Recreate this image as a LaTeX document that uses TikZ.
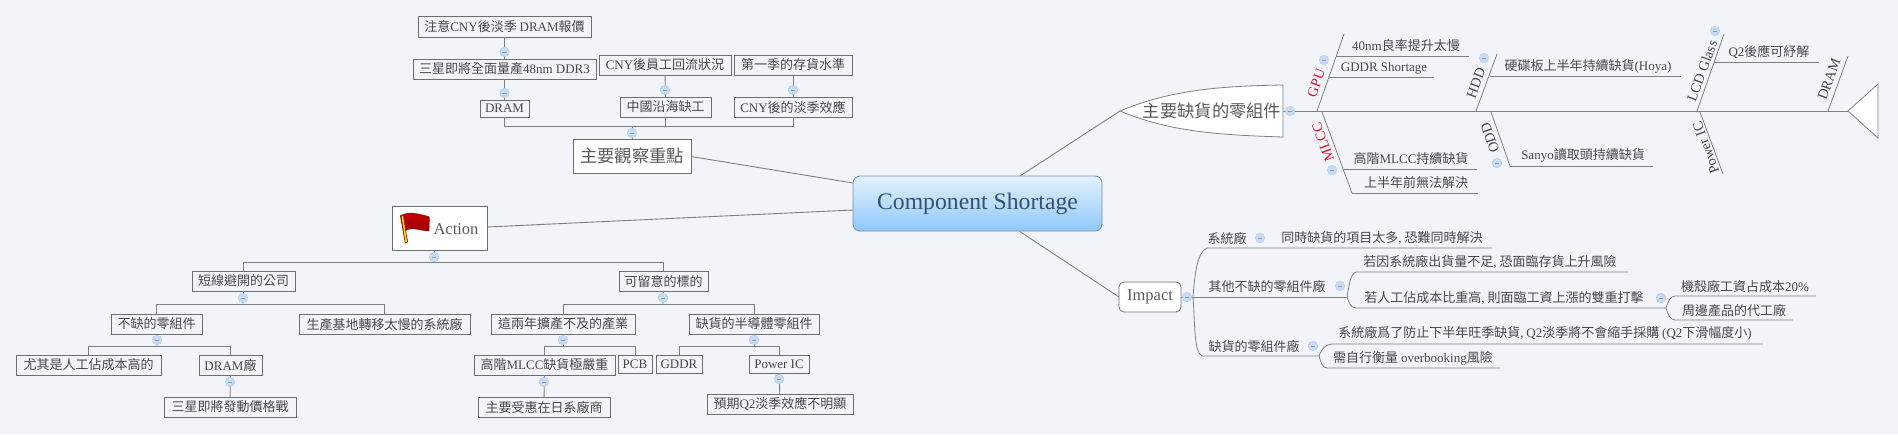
\documentclass[tikz,border=0pt]{standalone}
\usepackage{fontspec}
\setmainfont{Noto Sans CJK TC}
\newfontfamily\en{Liberation Serif}
\definecolor{bgc}{HTML}{F2F4F9}
\definecolor{linec}{HTML}{7F7F7F}
\definecolor{boxc}{HTML}{6E6E6E}
\definecolor{txtc}{HTML}{484848}
\definecolor{bigc}{HTML}{5A5A5A}
\definecolor{mkfill}{HTML}{C9DBF2}
\definecolor{mkdraw}{HTML}{B2CBEA}
\definecolor{mkbar}{HTML}{7F9CC4}
\definecolor{redc}{HTML}{E0102A}
\definecolor{cenT}{HTML}{E3F1FD}
\definecolor{cenB}{HTML}{8FC8FB}
\definecolor{cenTx}{HTML}{3A5068}
\definecolor{cenD}{HTML}{7A8EA5}
\newcommand{\szS}{\fontsize{13}{15}\selectfont}
\newcommand{\szR}{\fontsize{14.3}{16}\selectfont}
\newcommand{\szM}{\fontsize{17.3}{20}\selectfont}
\newcommand{\szL}{\fontsize{23.7}{27}\selectfont}
\tikzset{
  base/.style={inner sep=0pt,outer sep=0pt,text=txtc,align=center},
  box/.style={base,draw=boxc,line width=0.8pt,fill=bgc,font=\szS},
  bigbox/.style={base,draw=boxc,line width=0.8pt,fill=white,font=\szM,text=bigc},
  lab/.style={base,font=\szS},
  link/.style={draw=linec,line width=0.9pt},
  mkn/.style={circle,minimum size=9.5pt,inner sep=0pt,outer sep=0pt,fill=mkfill,draw=mkdraw,line width=0.5pt,
    path picture={\draw[mkbar,line width=0.7pt] ([xshift=-2.4pt]path picture bounding box.center) -- ([xshift=2.4pt]path picture bounding box.center);}},
}
\newcommand{\bx}[7][box]{\node[#1,minimum width={(#5-#3)*1pt},minimum height={(#6-#4)*1pt}] (#2) at ({(#3+#5)/2},{(#4+#6)/2}) {#7};}
\newcommand{\mk}[3]{\node[mkn] (#1) at (#2,#3) {};}
\begin{document}
\begin{tikzpicture}[x=1pt,y=-1pt]
\useasboundingbox (0,0) rectangle (1898,434);
\fill[bgc] (0,0) rectangle (1898,434);

% ---- named junctions
\coordinate (cA) at (853,183);
\coordinate (cB) at (853,210);
\coordinate (cC) at (1020,176);
\coordinate (cD) at (1019,231);
\coordinate (obsEnd) at (691,156.5);
\coordinate (actEnd) at (487,227);
\coordinate (zyTip) at (1120,111);
\coordinate (zyRight) at (1283,111);
\coordinate (impL) at (1119,297);
\coordinate (impR) at (1181,297);
\coordinate (busObs) at (632,126);
\coordinate (busAct) at (434,262);
\coordinate (busS) at (243,304);
\coordinate (busN) at (157,346);
\coordinate (busK) at (663,304);
\coordinate (busY) at (563,346);
\coordinate (busQ) at (754,346);

% ---- central links
\draw[link] (obsEnd) -- (cA);
\draw[link] (actEnd) -- (cB);
\draw[link] (cC) -- (zyTip);
\draw[link] (cD) -- (impL);

% ---- top tree
\bx{n1}{418}{16}{591}{37}{注意{\en CNY}後淡季 {\en DRAM}報價}
\bx{n2}{413}{59}{596}{79}{三星即將全面量產{\en 48nm DDR3}}
\bx{n3}{480}{100}{529}{117}{\en DRAM}
\bx{n4}{599}{55}{731}{75}{{\en CNY}後員工回流狀況}
\bx{n5}{620}{97}{711}{117}{中國沿海缺工}
\bx{n6}{734}{55}{852}{75}{第一季的存貨水準}
\bx{n7}{734}{97}{852}{117}{{\en CNY}後的淡季效應}
\bx[bigbox]{obs}{573}{139}{691}{173}{主要觀察重點}
\draw[link] (n1) -- (n2);
\draw[link] (n2) -- (n3);
\draw[link] (n4) -- (n5);
\draw[link] (n6) -- (n7);
\draw[link] (obs.north) -- (busObs);
\draw[link] (busObs) -| (n3.south);
\draw[link] (busObs) -| (n5.south);
\draw[link] (busObs) -| (n7.south);
\mk{m1}{504.5}{52}
\mk{m2}{504.5}{93}
\mk{m3}{665}{90}
\mk{m4}{793}{90}
\mk{m5}{632}{133}

% ---- Action tree
\bx[bigbox]{act}{392}{206}{487}{250}{}
\node[base,text=bigc,font=\fontsize{16.5}{19}\selectfont\en] (acttxt) at (456,229) {Action};
\shade[top color=red!80!black,bottom color=red!60!black,draw=red!50!black,line width=0.3pt]
  (402,215) .. controls (410,211) and (418,214) .. (427,216) -- (429.5,217) -- (429,231)
  .. controls (420,231) and (412,226) .. (405,231) -- cycle;
\fill[red!60!black] (400,215.5) -- (403,214.5) -- (408,242) -- (405,243.5) -- cycle;
\fill[yellow!90!orange] (401.5,216) -- (403,215.5) -- (407,241.5) -- (405.5,242.5) -- cycle;

\bx{a1}{192}{271}{295}{291}{短線避開的公司}
\bx{a2}{619}{271}{708}{291}{可留意的標的}
\bx{a3}{111}{314}{202}{334}{不缺的零組件}
\bx{a4}{299}{314}{470}{334}{生產基地轉移太慢的系統廠}
\bx{a5}{16}{355}{161}{375}{尤其是人工佔成本高的}
\bx{a6}{199}{355}{262}{375}{{\en DRAM}廠}
\bx{a7}{164}{397}{296}{417}{三星即將發動價格戰}
\bx{a8}{491}{314}{635}{334}{這兩年擴產不及的產業}
\bx{a9}{689}{314}{819}{334}{缺貨的半導體零組件}
\bx{a10}{474}{355}{615}{375}{高階{\en MLCC}缺貨極嚴重}
\bx{a11}{618}{355}{652}{373}{\en PCB}
\bx{a12}{478}{397}{610}{417}{主要受惠在日系廠商}
\bx{a13}{656}{355}{702}{373}{\en GDDR}
\bx{a14}{749}{355}{809}{373}{\en Power IC}
\bx{a15}{707}{394}{853}{414}{預期{\en Q2}淡季效應不明顯}

\draw[link] (act.south -| busAct) -- (busAct);
\draw[link] (busAct) -| (a1.north);
\draw[link] (busAct) -| (a2.north);
\draw[link] (a1.south) -- (busS);
\draw[link] (busS) -| (a3.north);
\draw[link] (busS) -| (a4.north);
\draw[link] (a3.south) -- (busN);
\draw[link] (busN) -| (a5.north);
\draw[link] (busN) -| (a6.north);
\draw[link] (a6) -- (a7);
\draw[link] (a2.south) -- (busK);
\draw[link] (busK) -| (a8.north);
\draw[link] (busK) -| (a9.north);
\draw[link] (a8.south) -- (busY);
\draw[link] (busY) -| (a10.north);
\draw[link] (busY) -| (a11.north);
\draw[link] (a10) -- (a12);
\draw[link] (a9.south) -- (busQ);
\draw[link] (busQ) -| (a13.north);
\draw[link] (busQ) -| (a14.north);
\draw[link] (a14) -- (a15);
\mk{m6}{434}{257}
\mk{m7}{243}{298}
\mk{m8}{157}{340}
\mk{m9}{230}{382}
\mk{m10}{663}{298}
\mk{m11}{563}{340}
\mk{m12}{544}{382}
\mk{m13}{754}{340}
\mk{m14}{779}{379}

% ---- fishbone
\coordinate (head) at (1848,111);
\draw[link] (zyRight) -- (head);
\filldraw[fill=white,draw=linec,line width=0.8pt] (head) -- (1878,84) -- (1878,138) -- cycle;
\filldraw[fill=white,draw=linec,line width=0.8pt] (zyTip)
  .. controls (1170,90) and (1220,86) .. (1283,85) -- (1283,137)
  .. controls (1220,135) and (1170,132) .. (zyTip) -- cycle;
\node[base,text=bigc,font=\szM] (zy) at (1212,111) {主要缺貨的零組件};
\mk{m15}{1290}{111}

\tikzset{
  bone/.style={link,line width=0.8pt},
  uplab/.style={base,font=\szR\en,rotate=70},
  dnlab/.style={base,font=\szR\en,rotate=110},
}
% upper bones
\coordinate (gpuA) at (1317,111); \coordinate (gpuB) at (1344,34);
\coordinate (hddA) at (1476,111); \coordinate (hddB) at (1497,54);
\coordinate (lcdA) at (1697,111); \coordinate (lcdB) at (1724,34);
\coordinate (dramA) at (1828,111); \coordinate (dramB) at (1848,56);
% lower bones
\coordinate (mlcA) at (1322,112); \coordinate (mlcB) at (1352,193);
\coordinate (oddA) at (1491,112); \coordinate (oddB) at (1510,166);
\coordinate (pwrA) at (1700,112); \coordinate (pwrB) at (1723,174);
\foreach \p/\q in {gpuA/gpuB,hddA/hddB,lcdA/lcdB,dramA/dramB,mlcA/mlcB,oddA/oddB,pwrA/pwrB}
  \draw[bone] (\p) -- (\q);
\node[uplab,text=redc] (lgpu) at (1316,83) {GPU};
\node[uplab] (lhdd) at (1476,83) {HDD};
\node[uplab] (llcd) at (1702,71) {LCD Glass};
\node[uplab] (ldram) at (1829,79) {DRAM};
\node[dnlab,text=redc] (lmlc) at (1323,142) {MLCC};
\node[dnlab] (lodd) at (1490,138) {ODD};
\node[dnlab] (lpwr) at (1706,148) {Power IC};
% sub bones
\coordinate (s1a) at (1336,56); \coordinate (s1b) at (1469,56);
\coordinate (s2a) at (1329,77); \coordinate (s2b) at (1434,77);
\coordinate (s3a) at (1490,76); \coordinate (s3b) at (1681,76);
\coordinate (s4a) at (1714,62); \coordinate (s4b) at (1819,62);
\coordinate (s5a) at (1344,169); \coordinate (s5b) at (1477,169);
\coordinate (s6a) at (1352,193); \coordinate (s6b) at (1478,193);
\coordinate (s7a) at (1510,166); \coordinate (s7b) at (1653,166);
\foreach \p/\q in {s1a/s1b,s2a/s2b,s3a/s3b,s4a/s4b,s5a/s5b,s6a/s6b,s7a/s7b}
  \draw[bone] (\p) -- (\q);
\node[lab] (t1) at (1406,46) {{\en 40nm}良率提升太慢};
\node[lab,font=\szS\en] (t2) at (1384,68) {GDDR Shortage};
\node[lab] (t3) at (1588,66) {硬碟板上半年持續缺貨{\en (Hoya)}};
\node[lab] (t4) at (1769,52) {{\en Q2}後應可紓解};
\node[lab] (t5) at (1411,159) {高階{\en MLCC}持續缺貨};
\node[lab] (t6) at (1416,183) {上半年前無法解決};
\node[lab] (t7) at (1583,155) {{\en Sanyo}讀取頭持續缺貨};
\mk{m16}{1324}{60}
\mk{m17}{1484}{58}
\mk{m18}{1715}{31}
\mk{m19}{1332}{170}
\mk{m20}{1497}{163}

% ---- Impact
\node[base,draw=boxc,line width=0.8pt,fill=white,rounded corners=5pt,text=bigc,font=\fontsize{16.5}{19}\selectfont\en,minimum width=62pt,minimum height=30pt] (imp) at (1150,297) {Impact};
\coordinate (j0) at (1193,297);
\coordinate (j1) at (1347,297);
\coordinate (j2) at (1666,308);
\coordinate (j3) at (1319,356);
\draw[bone] (impR) -- (j1);
\draw[bone] (j0) .. controls (1195,270) and (1198,252) .. (1207,248) -- (1492,248);
\draw[bone] (j0) .. controls (1195,325) and (1194,352) .. (1202,356) -- (j3);
\draw[bone] (j1) .. controls (1349,287) and (1350,274) .. (1356,272) -- (1628,272);
\draw[bone] (j1) .. controls (1349,302) and (1350,308) .. (1356,308) -- (j2);
\draw[bone] (j2) .. controls (1668,302) and (1670,296) .. (1675,296) -- (1816,296);
\draw[bone] (j2) .. controls (1668,314) and (1670,320) .. (1675,320) -- (1793,320);
\draw[bone] (j3) .. controls (1321,350) and (1325,344) .. (1332,344) -- (1763,344);
\draw[bone] (j3) .. controls (1321,362) and (1322,368) .. (1327,368) -- (1500,368);
\node[lab] (i1) at (1227,238) {系統廠};
\node[lab] (i2) at (1382,238) {同時缺貨的項目太多{\en ,} 恐難同時解決};
\node[lab] (i3) at (1267,286) {其他不缺的零組件廠};
\node[lab] (i4) at (1490,262) {若因系統廠出貨量不足{\en ,} 恐面臨存貨上升風險};
\node[lab] (i5) at (1504,298) {若人工佔成本比重高{\en ,} 則面臨工資上漲的雙重打擊};
\node[lab] (i6) at (1745,286) {機殼廠工資占成本{\en 20\%}};
\node[lab] (i7) at (1734,310) {周邊產品的代工廠};
\node[lab] (i8) at (1254,346) {缺貨的零組件廠};
\node[lab] (i9) at (1545,333) {系統廠爲了防止下半年旺季缺貨{\en ,} {\en Q2}淡季將不會縮手採購 {\en (Q2}下滑幅度小{\en )}};
\node[lab] (i10) at (1413,358) {需自行衡量 {\en overbooking}風險};
\mk{m21}{1187}{297}
\mk{m22}{1260}{238}
\mk{m23}{1340}{286}
\mk{m24}{1661}{298}
\mk{m25}{1313}{346}

% ---- central topic
\node[base,rounded corners=7pt,draw=cenD,line width=0.8pt,top color=cenT,bottom color=cenB,
  minimum width=249pt,minimum height=55pt,font=\szL\en,text=cenTx] (cen) at (977.5,203.5) {Component Shortage};
\end{tikzpicture}
\end{document}
